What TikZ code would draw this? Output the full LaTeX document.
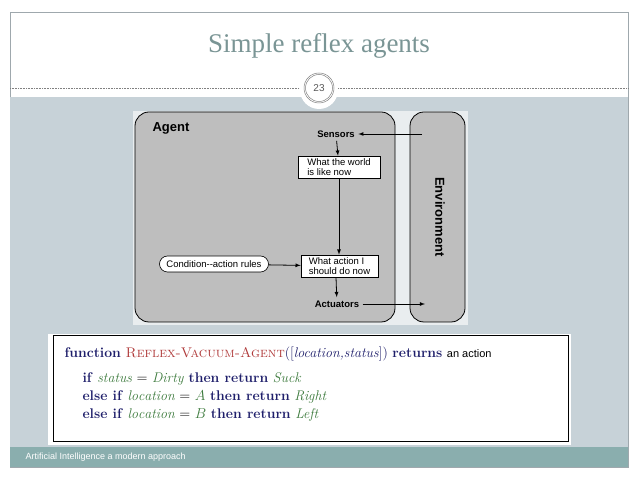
\documentclass[tikz,border=0pt]{standalone}
\usepackage{fontspec}
\newfontfamily\sansf{Liberation Sans}
\newfontfamily\seriff{Liberation Serif}
\definecolor{bgblue}{HTML}{C7D2D8}
\definecolor{foot}{HTML}{8AAEAE}
\definecolor{titlec}{HTML}{7A9595}
\definecolor{agray}{HTML}{BEBEBE}
\definecolor{kw}{HTML}{1F1F6B}
\definecolor{fn}{HTML}{B03A3A}
\definecolor{gr}{HTML}{3C7A3C}
\begin{document}
\begin{tikzpicture}[x=1pt,y=-1pt,
  blk/.style={draw=black,line width=0.8pt,fill=agray,rounded corners=14pt},
  bx/.style={draw=black,fill=white,line width=0.6pt,align=left,font=\sansf\fontsize{9.5}{10}\selectfont,inner sep=2pt},
  lab/.style={font=\sansf\bfseries\fontsize{9.5}{10}\selectfont},
  arr/.style={-latex,line width=0.8pt},
  cl/.style={anchor=west,font=\fontsize{14}{15}\selectfont}]
\useasboundingbox (0,0) rectangle (638,478);
\fill[white] (0,0) rectangle (638,478);
\draw[bgblue!80!black,line width=0.4pt,fill=white] (10,12) rectangle (628,467);
\fill[bgblue] (10,97) rectangle (628,447);
\fill[foot] (10,447) rectangle (628,467);
\draw[gray,densely dotted,line width=0.6pt] (10,88) -- (628,88);
\node[font=\seriff\fontsize{27}{29}\selectfont,text=titlec] (title) at (319,46) {Simple reflex agents};
\node[circle,fill=white,minimum size=38pt] (pgc) at (319,90) {};
\node[circle,draw=gray,line width=0.5pt,minimum size=30pt] (pg) at (319,88) {};
\node[circle,draw=gray,line width=0.5pt,minimum size=27pt,font=\sansf\fontsize{10}{10}\selectfont,text=gray!70!black] (pgn) at (319,88) {23};
\node[anchor=west,text=white,font=\sansf\fontsize{9}{10}\selectfont] (ft) at (22,457) {Artificial Intelligence a modern approach};
% diagram
\fill[bgblue!40!white] (133,111) rectangle (468,325);
\draw[blk] (135,112) rectangle (395,322);
\draw[blk] (410,112) rectangle (465,322);
\node[anchor=west,font=\sansf\bfseries\fontsize{13}{14}\selectfont] (agent) at (149,128) {Agent};
\node[rotate=-90,font=\sansf\bfseries\fontsize{13}{14}\selectfont] (env) at (440,217) {Environment};
\node[lab] (sens) at (336,134) {Sensors};
\node[lab] (act) at (337,304) {Actuators};
\node[bx,minimum width=82pt,minimum height=22pt] (world) at (339,167) {What the world\\is like now};
\node[bx,minimum width=77pt,minimum height=22pt] (what) at (339.5,266) {What action I\\should do now};
\node[bx,rounded corners=8pt,minimum width=109pt,minimum height=16pt] (rules) at (214,264) {Condition--action rules};
\coordinate (ein) at (422,134);
\coordinate (eout) at (425,304);
\draw[arr] (ein) -- (sens);
\draw[arr] (sens) -- (world);
\draw[arr] (world) -- (world |- what.north);
\draw[arr] (rules) -- (what);
\draw[arr] (what.south -| sens) -- (act);
\draw[arr] (act) -- (eout);
% code
\fill[white] (48,334) rectangle (571,445);
\draw[black,line width=1pt] (53,336) rectangle (568,442);
\node[cl] (l1) at (61,354) {\textcolor{kw}{\textbf{function}} \textcolor{fn}{\textsc{Reflex-Vacuum-Agent}}\textcolor{kw}{([\textit{location,status}])} \textcolor{kw}{\textbf{returns}} {\sansf\fontsize{11}{12}\selectfont an action}};
\node[cl] (l2) at (79,379) {\textcolor{kw}{\textbf{if}} \textcolor{gr}{$\mathit{status}$} $=$ \textcolor{gr}{\textit{Dirty}} \textcolor{kw}{\textbf{then return}} \textcolor{gr}{\textit{Suck}}};
\node[cl] (l3) at (79,397) {\textcolor{kw}{\textbf{else if}} \textcolor{gr}{$\mathit{location}$} $=$ \textcolor{gr}{$A$} \textcolor{kw}{\textbf{then return}} \textcolor{gr}{\textit{Right}}};
\node[cl] (l4) at (79,415) {\textcolor{kw}{\textbf{else if}} \textcolor{gr}{$\mathit{location}$} $=$ \textcolor{gr}{$B$} \textcolor{kw}{\textbf{then return}} \textcolor{gr}{\textit{Left}}};
\end{tikzpicture}
\end{document}
